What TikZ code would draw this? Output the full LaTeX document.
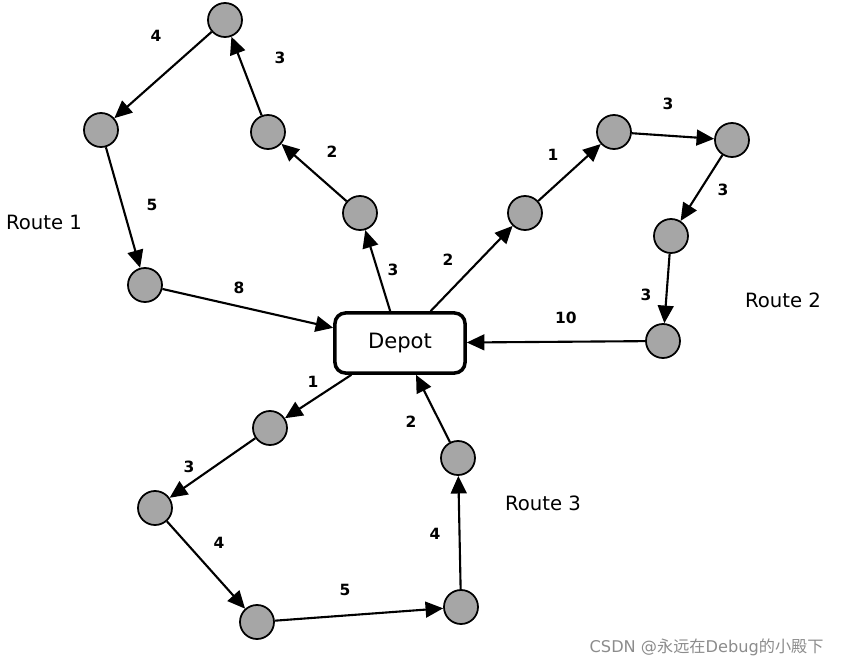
\documentclass[tikz,border=0pt]{standalone}
\usepackage{fontspec}
\setmainfont{DejaVu Sans}
\newfontfamily\cjk{Noto Sans CJK SC}
\usetikzlibrary{arrows.meta}
\begin{document}
\begin{tikzpicture}[x=0.01cm,y=-0.01cm,
  stop/.style={circle,draw=black,line width=0.5pt,fill=black!35,minimum size=0.34cm,inner sep=0pt},
  edge/.style={-{Triangle[length=5pt,width=4.5pt]},line width=0.6pt},
  lbl/.style={font=\bfseries\fontsize{4.4}{5}\selectfont},
  rt/.style={font=\fontsize{5.6}{6.5}\selectfont}]
\useasboundingbox (0,0) rectangle (850,666);
\node[draw,line width=1pt,rounded corners=3pt,minimum width=1.3cm,minimum height=0.6cm,font=\fontsize{6}{7}\selectfont] (d) at (400,343) {Depot};
\node[stop] (n1) at (360,213) {};
\node[stop] (n2) at (268,132) {};
\node[stop] (n3) at (225,20) {};
\node[stop] (n4) at (101,130) {};
\node[stop] (n5) at (145,285) {};
\node[stop] (a1) at (525,213) {};
\node[stop] (a2) at (614,132) {};
\node[stop] (a3) at (732,140) {};
\node[stop] (a4) at (671,236) {};
\node[stop] (a5) at (663,341) {};
\node[stop] (b1) at (270,428) {};
\node[stop] (b2) at (155,508) {};
\node[stop] (b3) at (257,622) {};
\node[stop] (b4) at (461,607) {};
\node[stop] (b5) at (458,458) {};
\draw[edge] (d) -- (n1); \draw[edge] (n1) -- (n2); \draw[edge] (n2) -- (n3);
\draw[edge] (n3) -- (n4); \draw[edge] (n4) -- (n5); \draw[edge] (n5) -- (d);
\draw[edge] (d) -- (a1); \draw[edge] (a1) -- (a2); \draw[edge] (a2) -- (a3);
\draw[edge] (a3) -- (a4); \draw[edge] (a4) -- (a5); \draw[edge] (a5) -- (d);
\draw[edge] (d) -- (b1); \draw[edge] (b1) -- (b2); \draw[edge] (b2) -- (b3);
\draw[edge] (b3) -- (b4); \draw[edge] (b4) -- (b5); \draw[edge] (b5) -- (d);
\node[lbl] (l1) at (393,270) {3};
\node[lbl] (l2) at (332,152) {2};
\node[lbl] (l3) at (280,58) {3};
\node[lbl] (l4) at (156,36) {4};
\node[lbl] (l5) at (152,205) {5};
\node[lbl] (l6) at (239,288) {8};
\node[lbl] (m1) at (448,260) {2};
\node[lbl] (m2) at (553,155) {1};
\node[lbl] (m3) at (668,104) {3};
\node[lbl] (m4) at (723,190) {3};
\node[lbl] (m5) at (646,295) {3};
\node[lbl] (m6) at (566,318) {10};
\node[lbl] (k1) at (313,382) {1};
\node[lbl] (k2) at (189,467) {3};
\node[lbl] (k3) at (219,543) {4};
\node[lbl] (k4) at (345,590) {5};
\node[lbl] (k5) at (435,534) {4};
\node[lbl] (k6) at (411,422) {2};
\node[rt] (r1) at (44,222) {Route 1};
\node[rt] (r2) at (783,300) {Route 2};
\node[rt] (r3) at (543,503) {Route 3};
\node[font=\fontsize{4.6}{5.5}\selectfont,text=black!45,anchor=east] (wm) at (836,647) {CSDN @{\cjk 永远在}Debug{\cjk 的小殿下}};
\end{tikzpicture}
\end{document}
